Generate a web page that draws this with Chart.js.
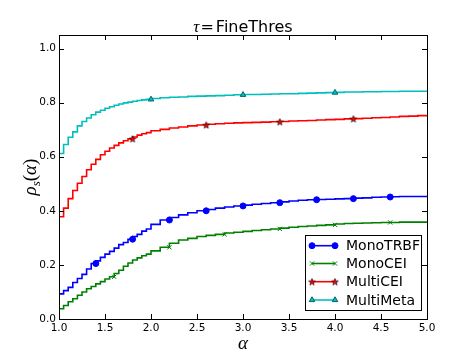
<!DOCTYPE html>
<html><head><meta charset="utf-8">
<script src="https://cdn.jsdelivr.net/npm/chart.js@4/dist/chart.umd.min.js"></script>
<style>html,body{margin:0;padding:0;background:#fff}#wrap{width:474px;height:355px;position:relative}</style>
</head><body><div id="wrap"><canvas id="c" width="474" height="355"></canvas></div>
<script>
// ---- data ----
const alphas = [1.00,1.05,1.10,1.15,1.20,1.25,1.30,1.35,1.40,1.45,1.50,1.55,1.60,1.65,1.70,1.75,1.80,1.85,1.90,1.95,2.00,
  2.1,2.2,2.3,2.4,2.5,2.6,2.7,2.8,2.9,3.0,3.1,3.2,3.3,3.4,3.5,3.6,3.7,3.8,3.9,4.0,4.1,4.2,4.3,4.4,4.5,4.6,4.7,4.8,4.9,5.0];
const monoTRBF = [0.080,0.093,0.105,0.117,0.135,0.150,0.165,0.185,0.205,0.215,0.228,0.240,0.250,0.262,0.275,0.283,0.295,0.305,0.313,0.325,0.333,
  0.350,0.366,0.375,0.385,0.393,0.400,0.405,0.410,0.414,0.418,0.421,0.424,0.427,0.430,0.433,0.436,0.439,0.441,0.442,0.443,0.444,0.445,0.447,0.448,0.450,0.451,0.452,0.453,0.453,0.453];
const monoCEI = [0.030,0.038,0.050,0.064,0.075,0.088,0.100,0.112,0.120,0.130,0.138,0.148,0.156,0.168,0.180,0.195,0.207,0.218,0.226,0.234,0.240,
  0.252,0.265,0.280,0.292,0.298,0.305,0.309,0.313,0.318,0.321,0.324,0.327,0.330,0.333,0.336,0.339,0.342,0.344,0.346,0.348,0.351,0.353,0.354,0.355,0.356,0.357,0.357,0.358,0.358,0.358];
const multiCEI = [0.333,0.378,0.410,0.445,0.475,0.502,0.527,0.552,0.572,0.590,0.607,0.620,0.632,0.642,0.651,0.659,0.666,0.673,0.680,0.685,0.689,
  0.696,0.701,0.706,0.710,0.714,0.717,0.720,0.722,0.724,0.725,0.726,0.727,0.728,0.729,0.730,0.732,0.733,0.734,0.736,0.737,0.738,0.740,0.741,0.742,0.744,0.745,0.747,0.749,0.750,0.752];
const multiMeta = [0.567,0.612,0.645,0.672,0.692,0.714,0.730,0.743,0.755,0.765,0.772,0.779,0.785,0.790,0.795,0.799,0.802,0.805,0.808,0.810,0.812,
  0.815,0.818,0.820,0.821,0.823,0.824,0.825,0.826,0.827,0.829,0.830,0.830,0.831,0.832,0.833,0.833,0.834,0.835,0.836,0.837,0.838,0.839,0.839,0.840,0.840,0.841,0.841,0.842,0.842,0.842];
const marksTRBF = [1.4,1.8,2.2,2.6,3.0,3.4,3.8,4.2,4.6];
const marksMonoCEI = [1.6,2.2,2.8,3.4,4.0,4.6];
const marksMultiCEI = [1.8,2.6,3.4,4.2];
const marksMeta = [2.0,3.0,4.0];
const seriesNames = ['MonoTRBF','MonoCEI','MultiCEI','MultiMeta'];
const xTicks = [1.0,1.5,2.0,2.5,3.0,3.5,4.0,4.5,5.0];
const yTicks = [0.0,0.2,0.4,0.6,0.8,1.0];

// star marker image
function makeStar(){
  const c=document.createElement('canvas'); c.width=8; c.height=8;
  const g=c.getContext('2d'); g.beginPath();
  for(let i=0;i<10;i++){const r=i%2?1.5:3.6; const a=-Math.PI/2+i*Math.PI/5; g.lineTo(4+r*Math.cos(a),4.3+r*Math.sin(a));}
  g.closePath(); g.fillStyle='#ff0000'; g.fill(); g.strokeStyle='#000'; g.lineWidth=0.6; g.stroke(); return c;
}
const starImg = makeStar();

function pts(ys){ return alphas.map((a,i)=>({x:a,y:ys[i]})); }
function isMark(list){ return ctx => (ctx.raw && list.some(m=>Math.abs(m-ctx.raw.x)<1e-6)); }

const styles = [
  {color:'#0000ff', style:'circle', radius:3, fill:'#0000ff', edge:'#0000ff', marks:marksTRBF},
  {color:'#008000', style:'crossRot', radius:3, fill:'#008000', edge:'#008000', marks:marksMonoCEI},
  {color:'#ff0000', style:starImg, radius:3.5, fill:'#ff0000', edge:'#000', marks:marksMultiCEI},
  {color:'#00bfbf', style:'triangle', radius:3.2, fill:'#00bfbf', edge:'#006666', marks:marksMeta}
];
const ys = [monoTRBF, monoCEI, multiCEI, multiMeta];

const datasets = ys.map((y,i)=>{
  const s=styles[i]; const f=isMark(s.marks);
  return {label:seriesNames[i], data:pts(y), stepped:'after', borderColor:s.color, borderWidth:1.6, fill:false,
    pointStyle:s.style, pointRadius:c=>f(c)?s.radius:0, pointHoverRadius:0, pointBackgroundColor:s.fill,
    pointBorderColor:s.edge, pointBorderWidth:1, order:3-i};
});

const deco = {
  id:'deco',
  afterDraw(chart){
    const {ctx, chartArea:a, scales} = chart;
    ctx.save();
    ctx.strokeStyle='#000'; ctx.lineWidth=1;
    ctx.strokeRect(Math.round(a.left)+0.5, Math.round(a.top)+0.5, Math.round(a.right-a.left), Math.round(a.bottom-a.top));
    ctx.beginPath();
    xTicks.forEach(v=>{const x=Math.round(scales.x.getPixelForValue(v))+0.5;
      ctx.moveTo(x,a.bottom); ctx.lineTo(x,a.bottom-5); ctx.moveTo(x,a.top); ctx.lineTo(x,a.top+5);});
    yTicks.forEach(v=>{const y=Math.round(scales.y.getPixelForValue(v))+0.5;
      ctx.moveTo(a.left,y); ctx.lineTo(a.left+5,y); ctx.moveTo(a.right,y); ctx.lineTo(a.right-5,y);});
    ctx.stroke();
    // title
    ctx.fillStyle='#000'; ctx.textBaseline='alphabetic';
    const cx=(a.left+a.right)/2;
    ctx.font='italic 17px "Liberation Serif"'; const wt=ctx.measureText('τ').width;
    ctx.font='16px "DejaVu Sans"'; const we=ctx.measureText('=').width; const wf=ctx.measureText('FineThres').width;
    let x0=cx-(wt+we+wf+3)/2;
    ctx.font='italic 17px "Liberation Serif"'; ctx.textAlign='left'; ctx.fillText('τ',x0,31.5);
    ctx.font='16px "DejaVu Sans"'; ctx.fillText('=',x0+wt+1,31.5); ctx.fillText('FineThres',x0+wt+we+3,31.5);
    // x label
    ctx.font='italic 19px "Liberation Serif"'; ctx.textAlign='center'; ctx.fillText('α',cx,349);
    // y label
    ctx.save(); ctx.translate(36,(a.top+a.bottom)/2); ctx.rotate(-Math.PI/2);
    const big='italic 19px "Liberation Serif"', sm='italic 13px "Liberation Serif"', up='19px "Liberation Serif"';
    const parts=[[big,'ρ',0],[sm,'s',4],[up,'(',0],[big,'α',0],[up,')',0]];
    let tw=0; parts.forEach(p=>{ctx.font=p[0]; tw+=ctx.measureText(p[1]).width;});
    let px=-tw/2; ctx.textAlign='left';
    parts.forEach(p=>{ctx.font=p[0]; ctx.fillText(p[1],px,p[2]); px+=ctx.measureText(p[1]).width;});
    ctx.restore();
    // legend
    const L={x:305,y:235,w:116,h:75};
    ctx.fillStyle='#fff'; ctx.fillRect(L.x,L.y,L.w,L.h);
    ctx.strokeStyle='#000'; ctx.lineWidth=1; ctx.strokeRect(L.x+0.5,L.y+0.5,L.w,L.h);
    const rows=[245.7,263.5,281.7,300];
    ctx.font='14px "DejaVu Sans"'; ctx.textBaseline='middle';
    styles.forEach((s,i)=>{
      const y=rows[i];
      ctx.strokeStyle=s.color; ctx.lineWidth=1.6; ctx.beginPath(); ctx.moveTo(312,y); ctx.lineTo(335,y); ctx.stroke();
      [312,335].forEach(xx=>{ctx.fillStyle=s.fill; ctx.strokeStyle=s.edge; ctx.lineWidth=1;
        Chart.helpers.drawPoint(ctx,{pointStyle:s.style,radius:s.radius,rotation:0,borderWidth:1},xx,y);});
      ctx.fillStyle='#000'; ctx.textAlign='left'; ctx.fillText(seriesNames[i],346,y+1);
    });
    ctx.restore();
  }
};

new Chart(document.getElementById('c'),{
  type:'line',
  data:{datasets},
  options:{
    responsive:false, animation:false, devicePixelRatio:1,
    layout:{padding:{left:0,top:35,right:47,bottom:0}},
    plugins:{legend:{display:false},title:{display:false},tooltip:{enabled:false}},
    scales:{
      x:{type:'linear',min:1,max:5,
        afterBuildTicks:s=>{s.ticks=xTicks.map(v=>({value:v}));},
        afterFit:s=>{s.height=36;},
        ticks:{callback:v=>Number(v).toFixed(1),font:{family:'DejaVu Sans',size:10.5},color:'#000',maxRotation:0,autoSkip:false,padding:3},
        grid:{display:false,drawTicks:false},border:{display:true,color:'#000',width:1}},
      y:{type:'linear',min:0,max:1.05,
        afterBuildTicks:s=>{s.ticks=yTicks.map(v=>({value:v}));},
        afterFit:s=>{s.width=59;},
        ticks:{callback:v=>Number(v).toFixed(1),font:{family:'DejaVu Sans',size:10.5},color:'#000',padding:3},
        grid:{display:false,drawTicks:false},border:{display:true,color:'#000',width:1}}
    }
  },
  plugins:[deco]
});
</script></body></html>
